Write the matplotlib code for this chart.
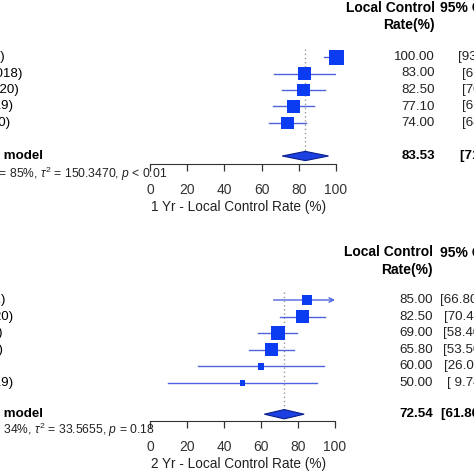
import matplotlib
matplotlib.use('Agg')
import matplotlib.pyplot as plt
import matplotlib.transforms as mtransforms
from matplotlib.patches import Polygon
import numpy as np

plt.rcParams['font.family'] = ['Liberation Sans', 'DejaVu Sans']
plt.rcParams['mathtext.fontset'] = 'custom'
plt.rcParams['mathtext.rm'] = 'Liberation Sans'
plt.rcParams['mathtext.it'] = 'Liberation Sans:italic'

# ---------------- data ----------------
top_labels = ["Study A et al. (2021)", "Study B et al. (2018)", "Study C et al. (2020)",
              "Study D et al. (2019)", "Study E et al. (2020)"]
top_est = [100.00, 83.00, 82.50, 77.10, 74.00]
top_lo = [93.51, 66.40, 70.70, 66.00, 64.00]
top_hi = [100.00, 99.60, 94.30, 88.20, 84.00]
top_w = [26.0, 18.0, 18.7, 18.6, 18.7]
top_pooled = [83.53, 71.10, 95.96]
top_het = "Heterogeneity: $I^2$ = 85%, $\\tau^2$ = 150.3470, $p$ < 0.01"
top_xlabel = "1 Yr - Local Control Rate (%)"

bot_labels = ["Study F et al. (2021)", "Study B et al. (2020)", "Study G et al. (2020)",
              "Study H et al. (2020)", "Study I", "Study J et al. (2019)"]
bot_est = [85.00, 82.50, 69.00, 65.80, 60.00, 50.00]
bot_lo = [66.80, 70.40, 58.40, 53.50, 26.00, 9.74]
bot_hi = [103.20, 94.60, 79.60, 78.10, 94.00, 90.26]
bot_w = [14.1, 23.8, 26.4, 24.9, 6.3, 4.5]
bot_pooled = [72.54, 61.80, 83.30]
bot_het = "Heterogeneity: $I^2$ = 34%, $\\tau^2$ = 33.5655, $p$ = 0.18"
bot_xlabel = "2 Yr - Local Control Rate (%)"

xticks = [0, 20, 40, 60, 80, 100]
header_est = "Local Control\nRate(%)"
header_ci = "95% CI"
model_label = "Random effects model"

# ---------------- style ----------------
W = 474.0
BOX_C = '#0B3CF2'
LINE_C = '#4F63DF'
DIA_FC = '#1B3FE0'
DIA_EC = '#0A1E8C'
FS = 9.6

fig = plt.figure(figsize=(4.74, 4.74), dpi=100)


def panel(spine_px, row0_px, row_px, x0_px, x100_px, labels, est, lo, hi, w,
          pooled, het, xlabel, label_end_px, val_end_px, ci_end_px, hdr_ci_px,
          pooled_y, het_y, het_end_px, max_side_px, hdr_y):
    n = len(est)
    ybot = (spine_px - row0_px) / row_px
    ytop = -3.3
    h_px = (ybot - ytop) * row_px
    ax = fig.add_axes([x0_px / W, 1 - spine_px / W, (x100_px - x0_px) / W, h_px / W])
    ax.set_xlim(0, 100)
    ax.set_ylim(ybot, ytop)
    for s in ['top', 'right', 'left']:
        ax.spines[s].set_visible(False)
    ax.spines['bottom'].set_bounds(0, 100)
    ax.spines['bottom'].set_color('#333333')
    ax.set_yticks([])
    ax.set_xticks(xticks)
    ax.tick_params(axis='x', direction='out', length=5, width=0.9, pad=9,
                   labelsize=10, colors='#333333')
    ax.patch.set_visible(False)

    ys = np.arange(n)
    # reference line
    ax.plot([pooled[0], pooled[0]], [-0.5, pooled_y], ls=(0, (1, 2)), color='#999999', lw=1, zorder=1)
    # CI lines
    for i in range(n):
        if hi[i] > 100:
            ax.annotate('', xy=(100, ys[i]), xytext=(lo[i], ys[i]),
                        arrowprops=dict(arrowstyle='->', color=LINE_C, lw=1,
                                        mutation_scale=8, shrinkA=0, shrinkB=0),
                        zorder=2)
        else:
            ax.plot([max(lo[i], 0), min(hi[i], 100)], [ys[i], ys[i]], color=LINE_C, lw=1, zorder=2)
    # boxes (area proportional to weight)
    wmax = max(w)
    sides_pt = [max_side_px * 0.72 * np.sqrt(wi / wmax) for wi in w]
    ax.scatter(est, ys, s=np.array(sides_pt) ** 2, marker='s', color=BOX_C, zorder=3,
               linewidths=0, clip_on=False)
    # diamond
    dh = 0.28
    dia = Polygon([(pooled[1], pooled_y), (pooled[0], pooled_y - dh),
                   (pooled[2], pooled_y), (pooled[0], pooled_y + dh)],
                  closed=True, facecolor=DIA_FC, edgecolor=DIA_EC, lw=0.8, zorder=3)
    ax.add_patch(dia)

    tr = mtransforms.blended_transform_factory(fig.transFigure, ax.transData)
    # study labels
    for i in range(n):
        ax.text(label_end_px[i] / W, ys[i], labels[i], transform=tr, ha='right', va='center',
                fontsize=FS, clip_on=False)
    ax.text(43 / W, pooled_y, model_label, transform=tr, ha='right', va='center',
            fontsize=FS, fontweight='bold', clip_on=False)
    ax.text(het_end_px / W, het_y, het, transform=tr, ha='right', va='center',
            fontsize=8.7, clip_on=False, color='#222222')
    # header
    ax.text(val_end_px / W, hdr_y, header_est, transform=tr, ha='right', va='center',
            multialignment='right', fontsize=10, fontweight='bold', linespacing=1.3, clip_on=False)
    ax.text(hdr_ci_px / W, hdr_y - 0.5, header_ci, transform=tr, ha='left', va='center',
            fontsize=10, fontweight='bold', clip_on=False)
    # values
    for i in range(n):
        ax.text(val_end_px / W, ys[i], f"{est[i]:.2f}", transform=tr, ha='right', va='center',
                fontsize=FS, clip_on=False, color='#222222')
        ax.text(ci_end_px / W, ys[i], f"[{lo[i]:5.2f}; {hi[i]:6.2f}]", transform=tr,
                ha='right', va='center', fontsize=FS, clip_on=False, color='#222222')
    ax.text(val_end_px / W, pooled_y, f"{pooled[0]:.2f}", transform=tr, ha='right', va='center',
            fontsize=FS, fontweight='bold', clip_on=False)
    ax.text(ci_end_px / W, pooled_y, f"[{pooled[1]:5.2f}; {pooled[2]:6.2f}]", transform=tr,
            ha='right', va='center', fontsize=FS, fontweight='bold', clip_on=False)
    # x label
    fig.text(238.5 / W, 1 - (spine_px + 43) / W, xlabel, ha='center', va='center',
             fontsize=9.8, color='#222222')
    return ax


panel(spine_px=164, row0_px=57, row_px=16.5, x0_px=150, x100_px=336,
      labels=top_labels, est=top_est, lo=top_lo, hi=top_hi, w=top_w,
      pooled=top_pooled, het=top_het, xlabel=top_xlabel,
      label_end_px=[5, 22, 19, 13, 10], val_end_px=435, ci_end_px=548, hdr_ci_px=440,
      pooled_y=6.0, het_y=7.1, het_end_px=167, max_side_px=15, hdr_y=-1.95 - 0.5)

panel(spine_px=421, row0_px=300, row_px=16.6, x0_px=150, x100_px=335,
      labels=bot_labels, est=bot_est, lo=bot_lo, hi=bot_hi, w=bot_w,
      pooled=bot_pooled, het=bot_het, xlabel=bot_xlabel,
      label_end_px=[5, 13, 3, 3, -20, 13], val_end_px=433, ci_end_px=529, hdr_ci_px=440,
      pooled_y=6.88, het_y=7.85, het_end_px=155, max_side_px=13.7, hdr_y=-1.85 - 0.5)

fig.savefig('out.png', dpi=100)
